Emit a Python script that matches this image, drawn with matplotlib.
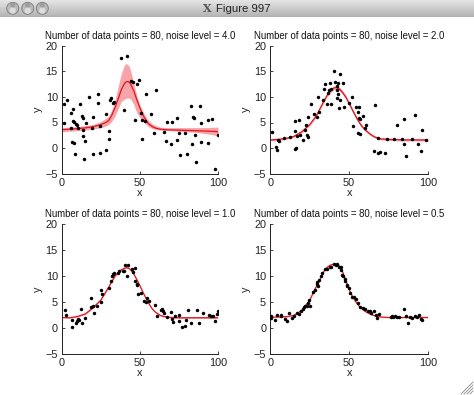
import numpy as np
import matplotlib
matplotlib.use("Agg")
import matplotlib.pyplot as plt
from matplotlib.patches import Circle

plt.rcParams['font.family'] = ['Liberation Sans', 'DejaVu Sans']

W, H = 474, 395

# ---------------- data ----------------
titles = ["Number of data points = 80, noise level = 4.0",
          "Number of data points = 80, noise level = 2.0",
          "Number of data points = 80, noise level = 1.0",
          "Number of data points = 80, noise level = 0.5"]
window_title = "Figure 997"
x_ticks = [0, 50, 100]
y_ticks = [-5, 0, 5, 10, 15, 20]

x1 = [1.0,1.6,3.1,5.6,7.3,5.5,7.0,8.0,8.8,9.5,6.4,7.9,8.4,10.0,11.6,12.8,13.3,13.3,13.7,14.6,
      14.2,17.0,15.3,19.8,19.3,20.0,23.3,22.8,24.3,24.5,28.0,28.4,30.3,30.3,31.0,31.7,32.5,33.2,37.6,41.9,
      39.9,44.2,45.8,47.8,49.1,46.9,50.6,51.4,53.0,51.6,53.7,56.9,60.1,58.8,65.4,66.6,67.1,70.5,70.1,73.6,
      73.4,75.3,75.6,78.6,80.3,82.8,84.0,84.5,83.5,85.1,85.7,88.5,88.8,89.2,93.5,93.5,96.3,98.1,99.7]
y1 = [5.0,8.6,9.3,6.9,7.7,4.0,5.2,5.1,4.8,4.6,1.2,1.0,-1.1,3.9,8.6,6.3,5.9,3.5,2.4,1.3,
      -2.1,10.0,5.0,6.0,3.9,-1.2,10.5,8.8,4.3,-1.0,6.6,-0.3,3.3,1.8,9.3,9.7,8.8,9.0,17.6,18.0,
      7.4,13.2,13.0,12.6,13.3,5.5,6.8,5.5,5.3,1.8,10.5,6.6,11.4,2.9,3.2,1.3,5.1,5.1,0.8,5.8,
      1.5,3.0,-1.3,3.0,-1.2,8.3,6.0,5.8,0.8,2.5,-2.8,8.3,4.9,1.2,0.9,5.4,5.6,-4.0,2.5]

x2 = [1.0,3.5,4.1,4.8,5.3,9.0,12.6,15.4,15.5,15.5,16.2,16.9,18.3,18.8,20.7,21.8,22.4,23.2,23.7,24.1,
      25.6,27.9,29.4,30.4,30.7,33.2,34.2,34.9,35.7,36.4,37.3,37.6,38.5,38.5,40.2,41.3,42.0,42.3,42.9,42.3,
      43.1,44.0,43.6,44.4,46.1,46.5,49.9,51.6,52.2,54.1,55.6,56.4,55.8,56.9,56.2,57.0,58.6,60.5,59.9,66.4,
      66.0,68.5,69.3,68.3,72.5,74.0,78.2,80.3,83.7,84.6,85.0,86.0,89.6,91.8,93.7,95.3,96.0,98.5]
y2 = [3.2,0.2,-0.3,1.6,1.3,2.0,2.2,5.2,3.3,-0.2,0.1,2.4,5.4,2.6,1.6,3.6,4.6,2.6,6.1,2.2,
      8.6,6.6,6.1,10.0,7.0,9.3,11.5,12.6,8.7,10.7,11.3,12.8,11.5,8.6,15.1,12.9,12.1,11.4,10.5,9.7,
      12.8,14.5,7.8,9.4,12.8,8.1,8.8,10.0,4.4,8.0,7.0,8.0,2.9,2.7,5.9,5.6,6.3,4.6,4.0,8.4,
      -0.5,-1.0,-0.7,2.0,-0.9,1.8,1.7,4.5,1.7,0.8,5.6,-1.5,1.8,6.5,0.8,-0.6,3.5,1.6]

x3 = [2.0,2.5,6.6,6.5,9.0,9.3,10.2,10.8,12.3,13.1,14.5,18.5,18.9,20.0,20.7,22.2,25.2,25.7,25.2,36.8,
      29.9,31.5,32.2,33.0,33.5,35.9,38.9,39.7,40.5,42.2,41.4,44.9,45.2,46.8,46.7,47.9,48.3,49.0,50.9,52.6,
      54.0,54.8,55.6,59.6,61.1,63.4,64.0,64.6,65.4,67.2,69.8,71.2,70.3,72.3,74.8,75.2,76.9,78.6,79.5,80.9,
      82.4,86.6,88.0,90.4,94.5,95.5,97.0,98.3,99.2,99.7]
y3 = [3.4,2.4,1.5,0.2,0.9,1.3,1.8,1.5,3.7,0.9,1.9,5.7,4.1,4.2,2.9,4.2,7.3,6.5,5.0,11.0,
      7.6,9.1,10.0,10.4,10.6,10.6,10.9,10.9,12.1,12.1,10.1,11.3,10.7,11.6,9.1,8.5,8.3,6.5,6.8,5.1,
      5.0,5.8,5.1,4.4,2.2,3.4,3.6,3.3,2.9,2.0,3.1,1.2,1.8,2.3,2.5,1.4,0.1,0.4,1.6,3.4,
      1.0,3.4,0.9,2.8,2.5,2.3,2.2,1.4,2.6,3.3]

x4 = [0.6,0.6,3.2,4.0,6.6,7.0,9.1,10.8,11.6,13.7,15.0,17.1,18.0,19.7,20.5,21.4,22.2,23.0,23.9,24.7,
      25.2,26.8,28.1,29.4,29.8,30.2,31.1,31.9,32.8,34.5,35.7,37.8,38.6,40.4,41.6,42.1,43.3,44.6,45.0,45.5,
      46.3,47.1,47.6,48.4,48.8,49.7,50.5,51.8,53.1,54.3,55.6,56.9,58.9,60.3,61.9,63.2,64.0,65.7,67.0,67.9,
      68.7,76.3,77.2,78.0,78.9,80.1,81.4,84.8,86.0,87.3,88.5,89.9,91.5,93.2,94.5,95.3,96.2]
y4 = [2.3,1.9,1.6,2.4,2.4,2.2,1.8,1.4,2.9,1.9,2.2,2.9,2.7,3.3,3.7,4.0,4.3,4.2,4.7,5.4,
      4.3,6.9,7.3,8.5,8.9,8.0,9.2,10.0,10.5,11.3,11.4,11.8,11.7,12.3,12.1,12.3,11.8,11.7,11.2,10.3,
      10.0,9.4,9.1,8.2,8.0,7.6,6.8,6.0,5.9,5.5,4.7,4.0,3.8,3.6,3.3,3.2,2.8,3.3,2.5,1.9,
      2.7,2.0,2.2,2.0,2.3,2.0,2.1,3.6,2.3,1.0,2.0,1.9,2.2,2.0,2.4,1.8,1.6]

# fitted curves (read at these x positions)
cx = [0, 5, 10, 15, 20, 25, 28, 30, 32, 34, 36, 38, 40, 41, 42, 43, 44, 46, 48, 50,
      52, 54, 56, 58, 60, 63, 66, 70, 75, 80, 85, 90, 95, 100]
mean1 = [3.6,3.7,3.8,3.95,4.2,4.6,5.0,5.4,6.5,7.9,9.6,11.4,12.6,12.9,13.0,12.9,12.5,11.2,9.4,7.8,
         6.4,5.3,4.6,4.2,3.9,3.7,3.6,3.55,3.5,3.45,3.4,3.35,3.3,3.2]
hi1 = [4.0,4.1,4.2,4.4,4.6,5.2,5.8,6.3,7.5,9.3,12.0,14.5,16.2,16.5,16.4,16.0,15.1,12.6,10.2,8.4,
       7.0,6.0,5.2,4.7,4.4,4.1,4.0,4.0,4.0,4.0,4.0,4.0,4.05,4.1]
lo1 = [3.2,3.3,3.4,3.55,3.7,4.0,4.3,4.6,5.3,6.3,7.7,9.1,9.6,9.7,9.8,9.75,9.6,8.5,6.9,5.9,
       5.2,4.6,4.1,3.8,3.65,3.5,3.45,3.4,3.3,3.2,3.1,2.9,2.7,2.4]
mean2 = [1.6,1.7,1.9,2.3,3.2,4.6,5.8,6.8,8.0,9.2,10.3,11.1,11.7,11.8,11.8,11.7,11.5,10.8,9.9,8.7,
         7.5,6.3,5.2,4.3,3.6,2.8,2.2,1.8,1.7,1.65,1.6,1.6,1.6,1.6]
hw2 = [0.2,0.2,0.2,0.2,0.22,0.25,0.25,0.28,0.28,0.3,0.3,0.33,0.35,0.35,0.35,0.35,0.35,0.35,0.33,0.33,
       0.32,0.3,0.3,0.27,0.26,0.24,0.22,0.2,0.2,0.2,0.2,0.2,0.2,0.22]
mean3 = [2.0,1.95,2.2,2.7,3.9,5.4,6.9,7.9,9.0,10.0,10.7,11.2,11.5,11.6,11.6,11.5,11.2,10.4,9.3,8.1,
         6.8,5.6,4.5,3.6,3.0,2.4,2.15,2.0,1.95,1.95,1.95,1.95,1.95,1.95]
hw3 = [0.13]*34
mean4 = [2.05,2.1,2.15,2.4,3.4,5.3,7.3,8.4,9.7,10.9,11.7,12.1,12.3,12.35,12.3,12.15,11.9,10.7,9.0,7.4,
         6.1,5.1,4.3,3.7,3.2,2.7,2.35,2.1,2.0,2.0,2.0,2.0,2.0,2.0]
hw4 = [0.08]*34

panels = [
    (x1, y1, mean1, lo1, hi1),
    (x2, y2, mean2, [m - h for m, h in zip(mean2, hw2)], [m + h for m, h in zip(mean2, hw2)]),
    (x3, y3, mean3, [m - h for m, h in zip(mean3, hw3)], [m + h for m, h in zip(mean3, hw3)]),
    (x4, y4, mean4, [m - h for m, h in zip(mean4, hw4)], [m + h for m, h in zip(mean4, hw4)]),
]

# axes rectangles in pixels: left, top, right, bottom
rects = [(62, 45.7, 218, 173.7), (270.3, 45.7, 428, 173.7),
         (62, 224.3, 218, 353.7), (270.3, 224.3, 428, 353.7)]

fig = plt.figure(figsize=(W / 100, H / 100), dpi=100)
fig.patch.set_facecolor('white')

def px_rect(l, t, r, b):
    return [l / W, 1 - b / H, (r - l) / W, (b - t) / H]

FS = 7.8
for (px, py, m, lo, hi), rc, ttl in zip(panels, rects, titles):
    ax = fig.add_axes(px_rect(*rc))
    ax.fill_between(cx, lo, hi, color='#f7a3a8', lw=0, zorder=1)
    ax.plot(cx, m, color='#e3141f', lw=0.9, zorder=2)
    ax.plot(px, py, 'o', color='black', ms=2.5, mew=0, zorder=3)
    ax.set_xlim(0, 100)
    ax.set_ylim(-5, 20)
    ax.set_xticks(x_ticks)
    ax.set_yticks(y_ticks)
    for s in ('top', 'right'):
        ax.spines[s].set_visible(False)
    for s in ('left', 'bottom'):
        ax.spines[s].set_linewidth(0.7)
        ax.spines[s].set_color('#222222')
    ax.tick_params(direction='in', length=2, width=0.6, labelsize=FS,
                   colors='#222222', pad=3)
    ax.set_xlabel('x', fontsize=FS, labelpad=0, color='#222222')
    ax.set_ylabel('y', fontsize=FS, labelpad=2, color='#222222')
    ax.set_title(ttl, fontsize=6.9, pad=5, color='#111111')

# ---- window chrome (title bar) ----
tb = fig.add_axes([0, 1 - 17 / H, 1, 17 / H])
tb.set_xlim(0, W)
tb.set_ylim(17, 0)
tb.axis('off')
grad = np.linspace(0, 1, 64).reshape(-1, 1)
tb.imshow(grad, cmap=matplotlib.colors.LinearSegmentedColormap.from_list(
    'tb', ['#e6e6e6', '#b2b2b2']), extent=(0, W, 17, 0), aspect='auto', zorder=0)
tb.axhline(16.6, color='#808080', lw=0.8, zorder=1)
for cxp in (12.7, 27.7, 42.3):
    tb.add_patch(Circle((cxp, 8.3), 6.0, facecolor='#b9b9b9', edgecolor='#7c7c7c', lw=0.6, zorder=2))
    tb.add_patch(Circle((cxp, 10.5), 3.2, facecolor='#dcdcdc', edgecolor='none', zorder=3))
    tb.add_patch(Circle((cxp, 5.0), 2.6, facecolor='#8f8f8f', edgecolor='none', alpha=0.6, zorder=3))
tb.text(207.5, 9.0, 'X', fontsize=8, ha='center', va='center', color='#555555',
        family='DejaVu Serif', fontweight='bold', zorder=4)
tb.text(243, 9.0, window_title, fontsize=8.2, ha='center', va='center', color='#222222', zorder=4)

# resize grip
grip = fig.add_axes([0, 0, 1, 1], facecolor='none')
grip.set_xlim(0, W)
grip.set_ylim(H, 0)
grip.axis('off')
for k in range(4):
    o = 4 + k * 3
    grip.plot([W - o, W - 1], [H - 1, H - o], color='#8a8a8a', lw=0.6)

fig.savefig('out.png', dpi=100)
